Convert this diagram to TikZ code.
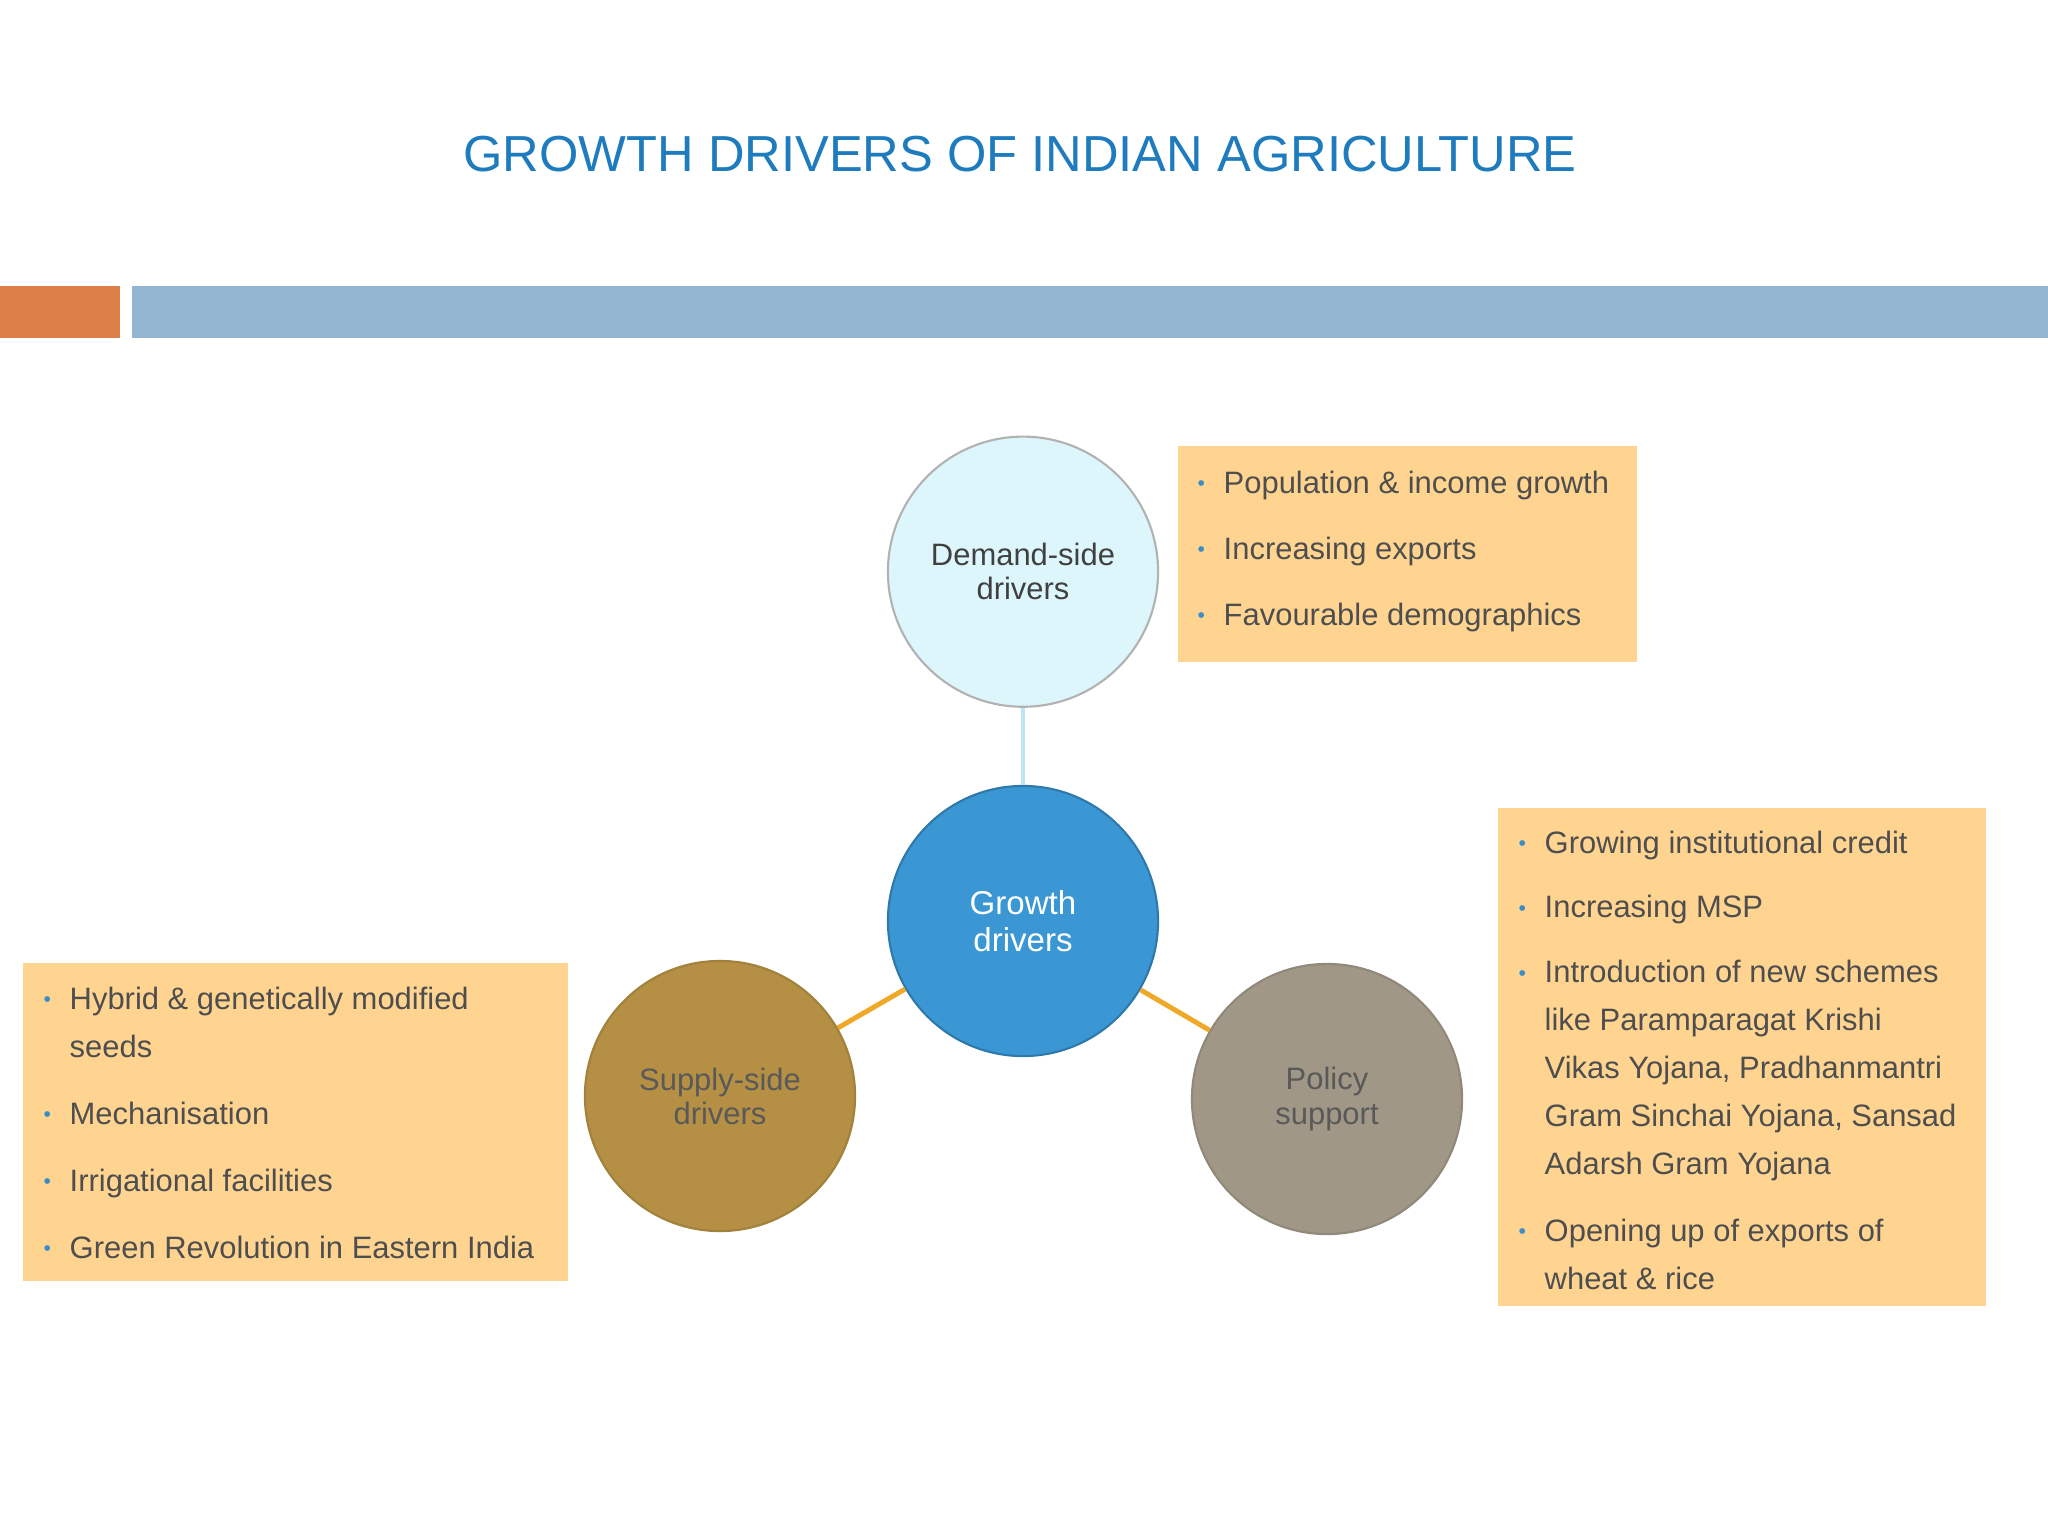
\documentclass[tikz,border=0pt]{standalone}
\usepackage{fontspec}
\setmainfont{Liberation Sans}
\usetikzlibrary{positioning}
\definecolor{titleblue}{RGB}{30,124,190}
\definecolor{barorange}{RGB}{221,128,72}
\definecolor{barblue}{RGB}{147,181,207}
\definecolor{boxorange}{RGB}{255,212,145}
\definecolor{textgray}{RGB}{78,78,78}
\definecolor{dotblue}{RGB}{60,140,200}
\definecolor{demandfill}{RGB}{221,246,252}
\definecolor{growthfill}{RGB}{58,151,212}
\definecolor{supplyfill}{RGB}{180,143,68}
\definecolor{policyfill}{RGB}{160,151,134}
\definecolor{linkblue}{RGB}{190,228,248}
\definecolor{linkorange}{RGB}{240,168,40}
\newcommand\bul{\makebox[0.26cm][l]{\raisebox{0.8pt}{\textcolor{dotblue}{\fontsize{6}{6}\selectfont\textbullet}}}}
\tikzset{
  driver/.style={
    circle,
    minimum size=2.7cm,
    inner sep=0pt,
    line width=0.6pt,
    align=center,
    font=\fontsize{8.8}{9.7}\selectfont
  },
  listbox/.style={fill=boxorange, inner sep=0pt, anchor=north west},
  listtext/.style={anchor=base west, inner sep=0pt, text=textgray,
    font=\fontsize{8.8}{13.66}\selectfont},
  link/.style={line width=1.4pt}
}

\begin{document}
\begin{tikzpicture}[x=0.01cm, y=-0.01cm]
  \useasboundingbox (0,0) rectangle (2048,1536);
  \node[text=titleblue, font=\fontsize{14.4}{16}\selectfont] (title) at (1020,154) {GROWTH DRIVERS OF INDIAN AGRICULTURE};
  \fill[barorange] (0,286) rectangle (120,338);
  \fill[barblue] (132,286) rectangle (2048,338);

  \node[driver, fill=growthfill, draw=growthfill!80!black, text=white, font=\fontsize{9.4}{10.5}\selectfont] (growth) at (1023,921) {Growth\\drivers};
  \node[driver, fill=demandfill, draw=black!30, text=black!75, above=0.77cm of growth] (demand) {Demand-side\\drivers};
  \node[driver, fill=supplyfill, draw=supplyfill!90!black, text=black!65] (supply) at (720,1096) {Supply-side\\drivers};
  \node[driver, fill=policyfill, draw=policyfill!90!black, text=black!65] (policy) at (1327,1099) {Policy\\support};
  \draw[link, linkblue] (demand) -- (growth);
  \draw[link, linkorange] (growth) -- (supply);
  \draw[link, linkorange] (growth) -- (policy);

  \node[listbox, minimum width=4.59cm, minimum height=2.16cm] (demandbox) at (1177,445) {};
  \node[listtext] (demandlist) at (1197,493) {\begin{tabular}[t]{@{}l@{}l@{}}
    \bul & Population \& income growth\\[5.2pt]
    \bul & Increasing exports\\[5.2pt]
    \bul & Favourable demographics
  \end{tabular}};

  \node[listbox, minimum width=5.45cm, minimum height=3.18cm] (supplybox) at (22,962) {};
  \node[listtext] (supplylist) at (43,1009) {\begin{tabular}[t]{@{}l@{}l@{}}
    \bul & Hybrid \& genetically modified\\
         & seeds\\[5.4pt]
    \bul & Mechanisation\\[5.4pt]
    \bul & Irrigational facilities\\[5.4pt]
    \bul & Green Revolution in Eastern India
  \end{tabular}};

  \node[listbox, minimum width=4.88cm, minimum height=4.98cm] (policybox) at (1497,807) {};
  \node[listtext] (policylist) at (1518,853) {\begin{tabular}[t]{@{}l@{}l@{}}
    \bul & Growing institutional credit\\[4.8pt]
    \bul & Increasing MSP\\[4.8pt]
    \bul & Introduction of new schemes\\
         & like Paramparagat Krishi\\
         & Vikas Yojana, Pradhanmantri\\
         & Gram Sinchai Yojana, Sansad\\
         & Adarsh Gram Yojana\\[5.2pt]
    \bul & Opening up of exports of\\
         & wheat \& rice
  \end{tabular}};
\end{tikzpicture}
\end{document}
